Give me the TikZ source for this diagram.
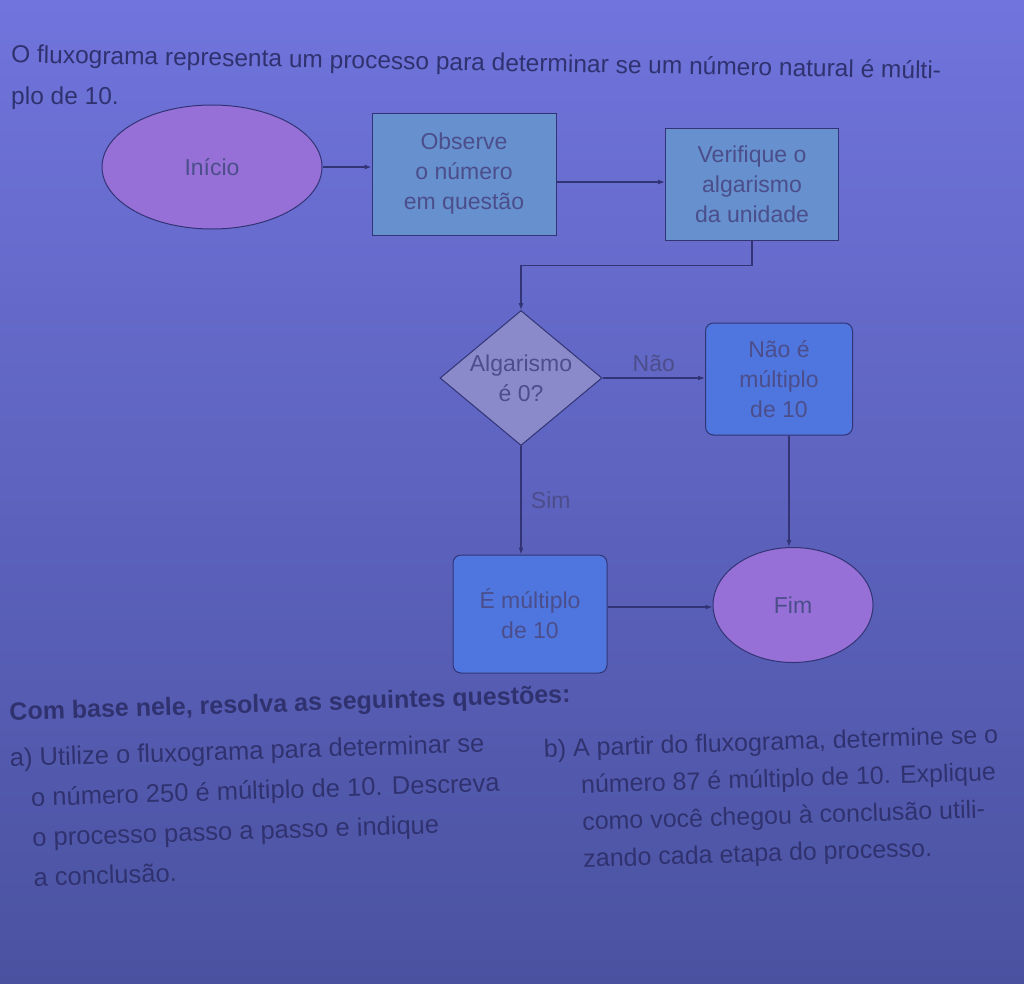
\documentclass[tikz,border=0pt]{standalone}
\usepackage{fontspec}
\setmainfont{Liberation Sans}
\usetikzlibrary{shapes.geometric,arrows.meta}
\definecolor{pagetop}{RGB}{112,116,220}
\definecolor{pagemid}{RGB}{104,108,212}
\definecolor{pagebot}{RGB}{74,82,160}
\definecolor{termcol}{RGB}{150,112,214}
\definecolor{stepcol}{RGB}{102,144,206}
\definecolor{decidecol}{RGB}{138,138,202}
\definecolor{resultcol}{RGB}{78,118,222}
\definecolor{linecol}{RGB}{50,52,118}
\definecolor{inkcol}{RGB}{76,78,140}
\definecolor{printcol}{RGB}{48,50,112}
\tikzset{
  every node/.style={text=inkcol, font=\fontsize{23}{30}\selectfont},
  terminal/.style={ellipse, draw=linecol, line width=1pt, fill=termcol},
  stepbox/.style={rectangle, draw=linecol, line width=1pt, fill=stepcol, align=center},
  resultbox/.style={rectangle, rounded corners=8pt, draw=linecol, line width=1pt, fill=resultcol, align=center},
  decision/.style={diamond, draw=linecol, line width=1pt, fill=decidecol, inner sep=0pt},
  flow/.style={draw=linecol, line width=1.2pt, -{Latex[length=7pt,width=5pt]}},
  printed/.style={text=printcol, anchor=west, align=left, font=\fontsize{25.5}{40}\selectfont},
}
\begin{document}
\begin{tikzpicture}[x=1pt,y=-1pt]
\useasboundingbox (0,0) rectangle (1024,983);
\shade[top color=pagetop, middle color=pagemid, bottom color=pagebot] (0,0) rectangle (1024,983);
%%
  % Node: header text
  \node[printed, rotate=-1, font=\fontsize{24.5}{40}\selectfont, inner sep=1pt] (header) at (10,56)
    {O fluxograma representa um processo para determinar se um número natural é múlti-};
  \node[printed, font=\fontsize{24.5}{40}\selectfont, inner sep=1pt] (header2) at (10,98)
    {plo de 10.};
  % Node: inicio
  \node[terminal, minimum width=220pt, minimum height=124pt] (inicio) at (212,167) {Início};
  % Node: observe
  \node[stepbox, minimum width=184pt, minimum height=122pt] (observe) at (464,174)
    {Observe\\o número\\em questão};
  % Node: verifique
  \node[stepbox, minimum width=173pt, minimum height=112pt] (verifique) at (752,184)
    {Verifique o\\algarismo\\da unidade};
  % Node: decisao
  \node[decision, minimum width=162pt, minimum height=135pt,
        label={[align=center, text=inkcol]center:Algarismo\\é 0?}] (decisao) at (521,378) {};
  % Node: naomult
  \node[resultbox, minimum width=147pt, minimum height=112pt] (naomult) at (779,379)
    {Não é\\múltiplo\\de 10};
  % Node: emult
  \node[resultbox, minimum width=154pt, minimum height=118pt] (emult) at (530,614)
    {É múltiplo\\de 10};
  % Node: fim
  \node[terminal, minimum width=160pt, minimum height=115pt] (fim) at (793,605) {Fim};
%
  % Edge: inicio -> observe
  \draw[flow] (inicio) -- (observe.west |- inicio.east);
  % Edge: observe -> verifique
  \draw[flow] (observe.east |- 0,182) -- (verifique.west |- 0,182);
  % Edge: verifique -> decisao
  \draw[flow] (verifique.south) -- ++(0,25) -| (decisao.north);
  % Edge: decisao -> naomult
  \draw[flow] (decisao.east) -- node[above, yshift=2pt] {Não} (naomult.west |- decisao.east);
  % Edge: decisao -> emult
  \draw[flow] (decisao.south) -- node[right, xshift=6pt] {Sim} (decisao.south |- emult.north);
  % Edge: naomult -> fim
  \draw[flow] ([xshift=10pt]naomult.south) -- ([xshift=10pt]naomult.south |- fim.north);
  % Edge: emult -> fim
  \draw[flow] (emult.east |- 0,607) -- (fim.west |- 0,607);
%
  % Node: questions
  \node[printed, rotate=1.8, font=\bfseries\fontsize{25}{30}\selectfont] (enunciado) at (6,714)
    {Com base nele, resolva as seguintes questões:};
  \node[printed, rotate=1.8, anchor=north west] (itema) at (6,745)
    {a) Utilize o fluxograma para determinar se\\
     \hspace*{20pt}o número 250 é múltiplo de 10. Descreva\\
     \hspace*{20pt}o processo passo a passo e indique\\
     \hspace*{20pt}a conclusão.};
  \node[printed, rotate=1.8, anchor=north west, font=\fontsize{25}{37}\selectfont] (itemb) at (540,736)
    {b) A partir do fluxograma, determine se o\\
     \hspace*{36pt}número 87 é múltiplo de 10. Explique\\
     \hspace*{36pt}como você chegou à conclusão utili-\\
     \hspace*{36pt}zando cada etapa do processo.};
%
\end{tikzpicture}
\end{document}
